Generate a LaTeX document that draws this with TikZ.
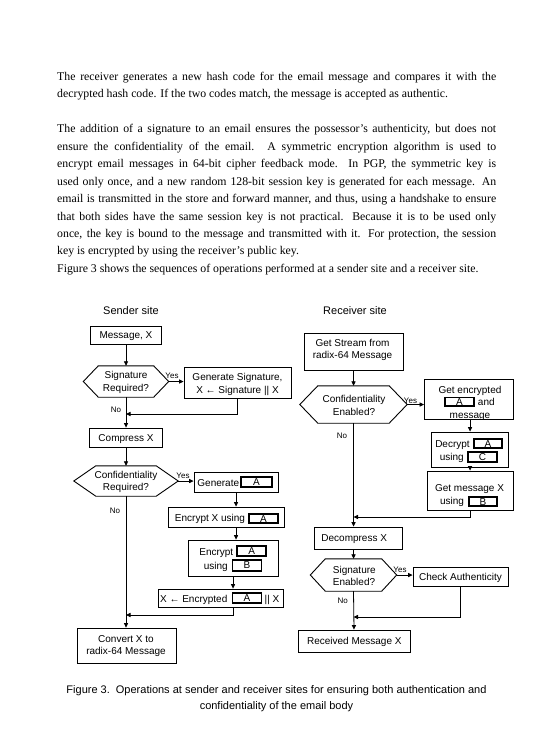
\documentclass[tikz,border=0pt]{standalone}
\usepackage{fontspec}
\setmainfont{Liberation Serif}
\setsansfont{Liberation Sans}
\usetikzlibrary{arrows.meta,calc}
\newcommand\boxfont{\sffamily\fontsize{10}{12}\selectfont}
\newcommand\lblfont{\sffamily\fontsize{8}{9.6}\selectfont}
\newcommand\headfont{\sffamily\fontsize{11}{13}\selectfont}
\newcommand\capfont{\sffamily\fontsize{11}{13}\selectfont}
\newcommand\parafont{\rmfamily\fontsize{11.8}{14}\selectfont}
\newcommand\hexa[2]{\draw[hexline] (#1.west) -- ([xshift=#2pt]#1.north west) -- ([xshift=-#2pt]#1.north east) -- (#1.east) -- ([xshift=-#2pt]#1.south east) -- ([xshift=#2pt]#1.south west) -- cycle;}
\tikzset{
  box/.style={draw, line width=0.9pt, inner sep=0pt, font=\boxfont, text height=7.2pt, text depth=0pt},
  keybox/.style={draw, line width=1.9pt, inner sep=0pt, font=\boxfont, text height=7.2pt, text depth=0pt},
  hexnode/.style={inner sep=0pt},
  txt/.style={inner sep=0pt, anchor=base, font=\boxfont},
  lbl/.style={inner sep=0pt, anchor=base, font=\lblfont},
  head/.style={inner sep=0pt, anchor=base, font=\headfont},
  capt/.style={inner sep=0pt, anchor=base, font=\capfont},
  para/.style={inner sep=0pt, anchor=base west, font=\parafont},
  hexline/.style={line width=0.9pt},
  conn/.style={draw, line width=0.8pt, -{Triangle[length=4.5pt,width=4.2pt]}},
  plain/.style={draw, line width=0.8pt},
}
\begin{document}
\begin{tikzpicture}[x=1pt,y=-1pt]
\fill[white] (0,0) rectangle (540,744);
\useasboundingbox (0,0) rectangle (540,744);

% ---------- body text ----------
\node[para] (p1) at (57,80) {\makebox[439pt][s]{The receiver generates a new hash code for the email message and compares it with the}};
\node[para] (p2) at (57,97.5) {decrypted hash code.  If the two codes match, the message is accepted as authentic.};
\node[para] (p3) at (57,132.7) {\makebox[439pt][s]{The addition of a signature to an email ensures the possessor’s authenticity, but does not}};
\node[para] (p4) at (57,150.2) {\makebox[439pt][s]{ensure the confidentiality of the email.  A symmetric encryption algorithm is used to}};
\node[para] (p5) at (57,167.6) {\makebox[439pt][s]{encrypt email messages in 64-bit cipher feedback mode.  In PGP, the symmetric key is}};
\node[para] (p6) at (57,185) {\makebox[439pt][s]{used only once, and a new random 128-bit session key is generated for each message.  An}};
\node[para] (p7) at (57,202.5) {\makebox[439pt][s]{email is transmitted in the store and forward manner, and thus, using a handshake to ensure}};
\node[para] (p8) at (57,220) {\makebox[439pt][s]{that both sides have the same session key is not practical.  Because it is to be used only}};
\node[para] (p9) at (57,237.4) {\makebox[439pt][s]{once, the key is bound to the message and transmitted with it.  For protection, the session}};
\node[para] (p10) at (57,254.8) {key is encrypted by using the receiver’s public key.};
\node[para] (p11) at (57,272.3) {Figure 3 shows the sequences of operations performed at a sender site and a receiver site.};

% ---------- headings ----------
\node[head] (sendh) at (131,314) {Sender site};
\node[head] (recvh) at (355,314) {Receiver site};

% ---------- sender column ----------
\node[box, minimum width=71pt, minimum height=18pt] (msg) at (126,335) {Message, X};

\node[hexnode, minimum width=85pt, minimum height=31pt] (h1) at (126,381.5) {};
\hexa{h1}{15}
\node[txt] (h1a) at (126,378.5) {Signature};
\node[txt] (h1b) at (126,391) {Required?};
\node[lbl] (yes1) at (172,378) {Yes};

\node[box, minimum width=107pt, minimum height=31pt] (gensig) at (237.5,382.5) {};
\node[txt] (gensiga) at (237.5,380) {Generate Signature,};
\node[txt] (gensigb) at (237.5,393) {X ← Signature || X};

\node[lbl] (no1) at (116,412) {No};
\coordinate (m1) at (126,414);

\node[box, minimum width=73pt, minimum height=19pt] (compress) at (126,437.5) {Compress X};

\node[hexnode, minimum width=104pt, minimum height=30pt] (h2) at (126,481) {};
\hexa{h2}{22}
\node[txt] (h2a) at (126,478) {Confidentiality};
\node[txt] (h2b) at (126,490) {Required?};
\node[lbl] (yes2) at (183,478) {Yes};

\node[box, minimum width=84pt, minimum height=20pt] (gena) at (236,482) {};
\node[txt] (genat) at (218.3,486) {Generate};
\node[keybox, minimum width=31pt, minimum height=10pt] (ka1) at (256.5,482) {A};

\node[lbl] (no2) at (115,513) {No};

\node[box, minimum width=116pt, minimum height=20pt] (encx) at (226,517) {};
\node[txt] (encxt) at (210,521) {Encrypt X using};
\node[keybox, minimum width=29pt, minimum height=9pt] (ka2) at (263.5,518.5) {A};

\node[box, minimum width=90pt, minimum height=36pt] (encab) at (233,558) {};
\node[txt] (encabt1) at (216.3,555) {Encrypt};
\node[keybox, minimum width=29pt, minimum height=10pt] (ka3) at (251.7,551) {A};
\node[txt] (encabt2) at (215.8,569) {using};
\node[keybox, minimum width=29pt, minimum height=10.5pt] (kb1) at (247,565.3) {B};

\node[box, minimum width=125pt, minimum height=18pt] (xenc) at (220.5,598) {};
\node[txt] (xenct1) at (193.7,602.5) {X ← Encrypted};
\node[keybox, minimum width=29pt, minimum height=10pt] (ka4) at (247,598) {A};
\node[txt] (xenct2) at (272,602.5) {|| X};

\coordinate (m2) at (126,615);

\node[box, minimum width=99pt, minimum height=35pt] (convert) at (126.5,645.5) {};
\node[txt] (convt1) at (126,642) {Convert X to};
\node[txt] (convt2) at (126,654.5) {radix-64 Message};

% sender connectors
\draw[conn] (msg.south) -- (h1.north);
\draw[conn] (h1.east) -- (h1.east -| gensig.west);
\draw[conn] (gensig.south) |- (m1);
\draw[conn] (h1.south) -- (compress.north);
\draw[conn] (compress.south) -- (h2.north);
\draw[conn] (h2.east) -- (h2.east -| gena.west);
\draw[conn] (gena.south) -- (gena.south |- encx.north);
\draw[conn] (gena.south |- encx.south) -- (gena.south |- encab.north);
\draw[conn] (encab.south) -- (encab.south |- xenc.north);
\draw[conn] (encab.south |- xenc.south) |- (m2);
\draw[conn] (h2.south) -- (h2.south |- convert.north);

% ---------- receiver column ----------
\node[box, minimum width=99pt, minimum height=37pt] (stream) at (353.5,351.5) {};
\node[txt] (streamt1) at (352.5,346) {Get Stream from};
\node[txt] (streamt2) at (352.5,358) {radix-64 Message};

\node[hexnode, minimum width=107pt, minimum height=37pt] (h3) at (353.5,404.5) {};
\hexa{h3}{18}
\node[txt] (h3a) at (354,402) {Confidentiality};
\node[txt] (h3b) at (354,415) {Enabled?};
\node[lbl] (yes3) at (410.5,403.5) {Yes};

\node[box, minimum width=89pt, minimum height=40pt] (getenc) at (469,399) {};
\node[txt] (getenct1) at (470,393.5) {Get encrypted};
\node[keybox, minimum width=29pt, minimum height=8.5pt] (ka5) at (459.5,401.7) {A};
\node[txt] (getenct2) at (486.3,405) {and};
\begin{scope}
  \clip (getenc.north west) rectangle (getenc.south east);
  \node[txt] (getenct3) at (470,418.3) {message};
\end{scope}

\node[box, minimum width=77pt, minimum height=35pt] (decrypt) at (470,449.5) {};
\node[txt] (decryptt1) at (452.5,447.5) {Decrypt};
\node[keybox, minimum width=28pt, minimum height=9.5pt] (ka6) at (488,443.5) {A};
\node[txt] (decryptt2) at (451.7,460) {using};
\node[keybox, minimum width=29pt, minimum height=10.5pt] (kc) at (482.5,457) {C};

\node[box, minimum width=86pt, minimum height=39pt] (getmsg) at (470,490.5) {};
\node[txt] (getmsgt1) at (469.5,491.5) {Get message X};
\node[txt] (getmsgt2) at (452,504) {using};
\node[keybox, minimum width=28pt, minimum height=9.5pt] (kb2) at (483,501.5) {B};

\node[lbl] (no3) at (342,438) {No};
\coordinate (m3) at (353.5,517);

\node[box, minimum width=88pt, minimum height=22pt] (decomp) at (358,538) {};
\node[txt] (decompt) at (354.2,541) {Decompress X};

\node[hexnode, minimum width=86pt, minimum height=32pt] (h4) at (353.5,575) {};
\hexa{h4}{15}
\node[txt] (h4a) at (354.3,573.5) {Signature};
\node[txt] (h4b) at (354,585) {Enabled?};
\node[lbl] (yes4) at (400,572) {Yes};

\node[box, minimum width=95pt, minimum height=19pt] (check) at (460.5,576.5) {Check Authenticity};

\node[lbl] (no4) at (342.7,603) {No};
\coordinate (m4) at (353.5,617);

\node[box, minimum width=112pt, minimum height=22pt] (recvd) at (354,641) {};
\node[txt] (recvdt) at (354.3,644) {Received Message X};

% receiver connectors
\draw[conn] (stream.south) -- (h3.north);
\draw[conn] (h3.east) -- (h3.east -| getenc.west);
\draw[conn] (decrypt.north |- getenc.south) -- (decrypt.north);
\draw[conn] (decrypt.south) -- (getmsg.north);
\draw[conn] (getmsg.south) |- (m3);
\draw[conn] (h3.south) -- (h3.south |- decomp.north);
\draw[conn] (h3.south |- decomp.south) -- (h4.north);
\draw[conn] (h4.east) -- (h4.east -| check.west);
\draw[conn] (check.south) |- (m4);
\draw[conn] (h4.south) -- (recvd.north);

% ---------- caption ----------
\node[capt] (cap1) at (276.5,693) {Figure 3.\hspace{0.55em}Operations at sender and receiver sites for ensuring both authentication and};
\node[capt] (cap2) at (276.5,709) {confidentiality of the email body};
\end{tikzpicture}
\end{document}
